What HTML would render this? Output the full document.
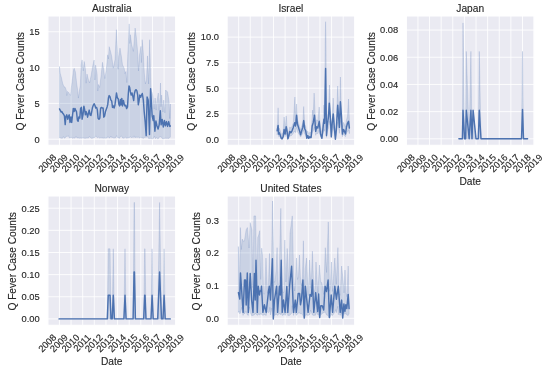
<!DOCTYPE html>
<html><head><meta charset="utf-8"><style>
html,body{margin:0;padding:0;background:#fff;width:550px;height:371px;overflow:hidden}
svg{display:block;}
text{stroke:#262626;stroke-width:0.15px;paint-order:stroke}
</style></head><body>
<svg width="550" height="371" viewBox="0 0 647.058824 436.470588">
 
 <defs>
  <style type="text/css">*{stroke-linejoin: round; stroke-linecap: butt}</style>
 </defs>
 <g id="figure_1">
  <g id="patch_1">
   <path d="M 0 436.470588 
L 647.058824 436.470588 
L 647.058824 0 
L 0 0 
z
" style="fill: #ffffff"/>
  </g>
  <g id="axes_1">
   <g id="patch_2">
    <path d="M 56.235294 170.823529 
L 206.705882 170.823529 
L 206.705882 18.705882 
L 56.235294 18.705882 
z
" style="fill: #eaeaf2"/>
   </g>
   <g id="matplotlib.axis_1">
    <g id="xtick_1">
     <g id="line2d_1">
      <path d="M 56.235294 170.823529 
L 56.235294 18.705882 
" clip-path="url(#pfba14cbc43)" style="fill: none; stroke: #ffffff; stroke-linecap: round"/>
     </g>
     <g id="text_1">
      <text style="font-size: 11px; font-family: 'Liberation Sans', 'DejaVu Sans', sans-serif; fill: #262626" transform="translate(49.595893 203.261852) rotate(-45)">2008</text>
     </g>
    </g>
    <g id="xtick_2">
     <g id="line2d_2">
      <path d="M 69.941674 170.823529 
L 69.941674 18.705882 
" clip-path="url(#pfba14cbc43)" style="fill: none; stroke: #ffffff; stroke-linecap: round"/>
     </g>
     <g id="text_2">
      <text style="font-size: 11px; font-family: 'Liberation Sans', 'DejaVu Sans', sans-serif; fill: #262626" transform="translate(63.302273 203.261852) rotate(-45)">2009</text>
     </g>
    </g>
    <g id="xtick_3">
     <g id="line2d_3">
      <path d="M 83.610605 170.823529 
L 83.610605 18.705882 
" clip-path="url(#pfba14cbc43)" style="fill: none; stroke: #ffffff; stroke-linecap: round"/>
     </g>
     <g id="text_3">
      <text style="font-size: 11px; font-family: 'Liberation Sans', 'DejaVu Sans', sans-serif; fill: #262626" transform="translate(76.971204 203.261852) rotate(-45)">2010</text>
     </g>
    </g>
    <g id="xtick_4">
     <g id="line2d_4">
      <path d="M 97.279536 170.823529 
L 97.279536 18.705882 
" clip-path="url(#pfba14cbc43)" style="fill: none; stroke: #ffffff; stroke-linecap: round"/>
     </g>
     <g id="text_4">
      <text style="font-size: 11px; font-family: 'Liberation Sans', 'DejaVu Sans', sans-serif; fill: #262626" transform="translate(90.926955 202.688212) rotate(-45)">2011</text>
     </g>
    </g>
    <g id="xtick_5">
     <g id="line2d_5">
      <path d="M 110.948467 170.823529 
L 110.948467 18.705882 
" clip-path="url(#pfba14cbc43)" style="fill: none; stroke: #ffffff; stroke-linecap: round"/>
     </g>
     <g id="text_5">
      <text style="font-size: 11px; font-family: 'Liberation Sans', 'DejaVu Sans', sans-serif; fill: #262626" transform="translate(104.309066 203.261852) rotate(-45)">2012</text>
     </g>
    </g>
    <g id="xtick_6">
     <g id="line2d_6">
      <path d="M 124.654847 170.823529 
L 124.654847 18.705882 
" clip-path="url(#pfba14cbc43)" style="fill: none; stroke: #ffffff; stroke-linecap: round"/>
     </g>
     <g id="text_6">
      <text style="font-size: 11px; font-family: 'Liberation Sans', 'DejaVu Sans', sans-serif; fill: #262626" transform="translate(118.015446 203.261852) rotate(-45)">2013</text>
     </g>
    </g>
    <g id="xtick_7">
     <g id="line2d_7">
      <path d="M 138.323778 170.823529 
L 138.323778 18.705882 
" clip-path="url(#pfba14cbc43)" style="fill: none; stroke: #ffffff; stroke-linecap: round"/>
     </g>
     <g id="text_7">
      <text style="font-size: 11px; font-family: 'Liberation Sans', 'DejaVu Sans', sans-serif; fill: #262626" transform="translate(131.684377 203.261852) rotate(-45)">2014</text>
     </g>
    </g>
    <g id="xtick_8">
     <g id="line2d_8">
      <path d="M 151.992709 170.823529 
L 151.992709 18.705882 
" clip-path="url(#pfba14cbc43)" style="fill: none; stroke: #ffffff; stroke-linecap: round"/>
     </g>
     <g id="text_8">
      <text style="font-size: 11px; font-family: 'Liberation Sans', 'DejaVu Sans', sans-serif; fill: #262626" transform="translate(145.353308 203.261852) rotate(-45)">2015</text>
     </g>
    </g>
    <g id="xtick_9">
     <g id="line2d_9">
      <path d="M 165.66164 170.823529 
L 165.66164 18.705882 
" clip-path="url(#pfba14cbc43)" style="fill: none; stroke: #ffffff; stroke-linecap: round"/>
     </g>
     <g id="text_9">
      <text style="font-size: 11px; font-family: 'Liberation Sans', 'DejaVu Sans', sans-serif; fill: #262626" transform="translate(159.022239 203.261852) rotate(-45)">2016</text>
     </g>
    </g>
    <g id="xtick_10">
     <g id="line2d_10">
      <path d="M 179.36802 170.823529 
L 179.36802 18.705882 
" clip-path="url(#pfba14cbc43)" style="fill: none; stroke: #ffffff; stroke-linecap: round"/>
     </g>
     <g id="text_10">
      <text style="font-size: 11px; font-family: 'Liberation Sans', 'DejaVu Sans', sans-serif; fill: #262626" transform="translate(172.728619 203.261852) rotate(-45)">2017</text>
     </g>
    </g>
    <g id="xtick_11">
     <g id="line2d_11">
      <path d="M 193.036951 170.823529 
L 193.036951 18.705882 
" clip-path="url(#pfba14cbc43)" style="fill: none; stroke: #ffffff; stroke-linecap: round"/>
     </g>
     <g id="text_11">
      <text style="font-size: 11px; font-family: 'Liberation Sans', 'DejaVu Sans', sans-serif; fill: #262626" transform="translate(186.39755 203.261852) rotate(-45)">2018</text>
     </g>
    </g>
    <g id="xtick_12">
     <g id="line2d_12">
      <path d="M 206.705882 170.823529 
L 206.705882 18.705882 
" clip-path="url(#pfba14cbc43)" style="fill: none; stroke: #ffffff; stroke-linecap: round"/>
     </g>
     <g id="text_12">
      <text style="font-size: 11px; font-family: 'Liberation Sans', 'DejaVu Sans', sans-serif; fill: #262626" transform="translate(200.066481 203.261852) rotate(-45)">2019</text>
     </g>
    </g>
   </g>
   <g id="matplotlib.axis_2">
    <g id="ytick_1">
     <g id="line2d_13">
      <path d="M 56.235294 163.764706 
L 206.705882 163.764706 
" clip-path="url(#pfba14cbc43)" style="fill: none; stroke: #ffffff; stroke-linecap: round"/>
     </g>
     <g id="text_13">
      <text style="font-size: 11px; font-family: 'Liberation Sans', 'DejaVu Sans', sans-serif; text-anchor: end; fill: #262626" x="46.735294" y="167.750487" transform="rotate(-0 46.735294 167.750487)">0</text>
     </g>
    </g>
    <g id="ytick_2">
     <g id="line2d_14">
      <path d="M 56.235294 121.627451 
L 206.705882 121.627451 
" clip-path="url(#pfba14cbc43)" style="fill: none; stroke: #ffffff; stroke-linecap: round"/>
     </g>
     <g id="text_14">
      <text style="font-size: 11px; font-family: 'Liberation Sans', 'DejaVu Sans', sans-serif; text-anchor: end; fill: #262626" x="46.735294" y="125.613232" transform="rotate(-0 46.735294 125.613232)">5</text>
     </g>
    </g>
    <g id="ytick_3">
     <g id="line2d_15">
      <path d="M 56.235294 79.490196 
L 206.705882 79.490196 
" clip-path="url(#pfba14cbc43)" style="fill: none; stroke: #ffffff; stroke-linecap: round"/>
     </g>
     <g id="text_15">
      <text style="font-size: 11px; font-family: 'Liberation Sans', 'DejaVu Sans', sans-serif; text-anchor: end; fill: #262626" x="46.735294" y="83.475977" transform="rotate(-0 46.735294 83.475977)">10</text>
     </g>
    </g>
    <g id="ytick_4">
     <g id="line2d_16">
      <path d="M 56.235294 37.352941 
L 206.705882 37.352941 
" clip-path="url(#pfba14cbc43)" style="fill: none; stroke: #ffffff; stroke-linecap: round"/>
     </g>
     <g id="text_16">
      <text style="font-size: 11px; font-family: 'Liberation Sans', 'DejaVu Sans', sans-serif; text-anchor: end; fill: #262626" x="46.735294" y="41.338722" transform="rotate(-0 46.735294 41.338722)">15</text>
     </g>
    </g>
    <g id="text_17">
     <text style="font-size: 12px; font-family: 'Liberation Sans', 'DejaVu Sans', sans-serif; text-anchor: middle; fill: #262626" x="28.011" y="95.706" transform="rotate(-90 28.011 95.706)">Q Fever Case Counts</text>
    </g>
   </g>
   <g id="patch_3">
    <path d="M 70 78.235294 
L 70.823529 86.117647 
L 72.352941 91.764706 
L 73.764706 98.235294 
L 75.176471 101.882353 
L 76.588235 102.588235 
L 78 106.117647 
L 78.55 112.525881 
L 79.411765 107.529412 
L 80.823529 108.941176 
L 82.352941 111.764706 
L 83.11 112.144565 
L 83.764706 104.705882 
L 85.176471 93.294118 
L 86.588235 81.882353 
L 87.294118 80.352941 
L 88.705882 84.705882 
L 90.117647 97.529412 
L 91.529412 107.529412 
L 92.23 115.392472 
L 93.058824 108.941176 
L 94.470588 100.352941 
L 95.529412 76.117647 
L 96.588235 70.470588 
L 98 83.294118 
L 99.058824 72.352941 
L 100.588235 82 
L 101.35 97.886545 
L 102.352941 87.176471 
L 104.117647 94.117647 
L 105.411765 97.647059 
L 107.176471 88.941176 
L 108.941176 78.470588 
L 110.705882 70.588235 
L 111.61 94.124484 
L 112.470588 76.705882 
L 114.235294 87.176471 
L 115.03 107.09399 
L 115.882353 99.411765 
L 117.176471 102.941176 
L 118.941176 88.941176 
L 120.588235 73.294118 
L 122 82 
L 123.294118 92.470588 
L 125.058824 82 
L 126.705882 64.470588 
L 127.57 69.262143 
L 128.470588 54.941176 
L 130.235294 61.058824 
L 131.411765 66.470588 
L 133.294118 80.235294 
L 135.294118 70.352941 
L 136.941176 34.941176 
L 138.235294 60.470588 
L 138.97 81.576033 
L 139.647059 66.470588 
L 141.176471 56.588235 
L 142.823529 66.470588 
L 144.117647 76.235294 
L 146.117647 80.235294 
L 146.95 86.680666 
L 148.117647 84.117647 
L 149.23 97.151016 
L 150.117647 70.352941 
L 152 28.117647 
L 152.65 51.153814 
L 153.411765 40.823529 
L 154.941176 52.705882 
L 156.941176 60.470588 
L 158.941176 32.941176 
L 160.470588 44.823529 
L 161.882353 60.470588 
L 162.91 83.50845 
L 163.882353 66.470588 
L 165.764706 54.588235 
L 166.33 73.643245 
L 167.294118 46.705882 
L 168.470588 60.705882 
L 169.764706 86 
L 171.058824 98.705882 
L 172.352941 93.647059 
L 173.529412 65.764706 
L 174.823529 98.705882 
L 176.117647 46.705882 
L 177.411765 98.705882 
L 177.981765 107.668783 
L 178.705882 108.235294 
L 179.882353 112.941176 
L 181.401765 128.332185 
L 182.470588 115.294118 
L 183.681765 129.544932 
L 184.470588 120 
L 186.235294 109.411765 
L 187.101765 129.836619 
L 188.241765 114.771807 
L 188.823529 97.647059 
L 189.381765 125.532024 
L 190.117647 111.764706 
L 191.661765 131.810446 
L 192.588235 117.647059 
L 193.941765 132.806465 
L 194.823529 105.882353 
L 197.176471 108.235294 
L 198.941176 120 
L 199.641765 139.525914 
L 200.470588 122.352941 
L 200.470588 161.188235 
L 198.823529 162.823529 
L 197.682353 162.635294 
L 196.541176 162.776471 
L 195.4 162.752941 
L 194.258824 162.635294 
L 193.117647 162.870588 
L 191.976471 163.258824 
L 190.835294 163.035294 
L 189.705882 161.035294 
L 188.564706 160.929412 
L 187.423529 161.152941 
L 186.282353 163.105882 
L 185.141176 163.058824 
L 184 162.011765 
L 182.858824 163.176471 
L 181.717647 160.235294 
L 180.576471 162.776471 
L 179.435294 163.164706 
L 178.305882 163.058824 
L 177.164706 162.776471 
L 176.023529 162.858824 
L 174.882353 162.976471 
L 173.741176 160.976471 
L 172.6 161.317647 
L 171.458824 161.458824 
L 170.317647 161.411765 
L 169.176471 162.6 
L 168.035294 162.258824 
L 166.905882 162.105882 
L 165.764706 161.341176 
L 164.623529 162.141176 
L 163.482353 162.058824 
L 162.341176 160.847059 
L 161.2 162.117647 
L 160.058824 160.588235 
L 158.917647 162.223529 
L 157.776471 159.776471 
L 156.635294 162.117647 
L 155.505882 161.247059 
L 154.364706 162.011765 
L 153.223529 160.658824 
L 152.082353 162.317647 
L 150.941176 162.047059 
L 149.8 162.152941 
L 148.658824 162.505882 
L 147.517647 161.317647 
L 146.376471 162.188235 
L 145.235294 162.517647 
L 144.105882 162.235294 
L 142.964706 160.141176 
L 141.823529 160.376471 
L 140.682353 162.682353 
L 139.541176 162.011765 
L 138.4 162.164706 
L 137.258824 159.529412 
L 136.117647 162.035294 
L 134.976471 162.141176 
L 133.835294 162.623529 
L 132.705882 161.4 
L 131.564706 162.117647 
L 130.423529 159.976471 
L 129.282353 162.270588 
L 128.141176 162.070588 
L 127 160.658824 
L 125.858824 162.4 
L 124.717647 162.423529 
L 123.576471 162.576471 
L 122.435294 162.094118 
L 121.305882 162.6 
L 120.164706 162.047059 
L 119.023529 162.129412 
L 117.882353 162.105882 
L 116.741176 162.341176 
L 115.6 161.294118 
L 114.458824 162.164706 
L 113.317647 160.223529 
L 112.176471 160.388235 
L 111.035294 162.282353 
L 109.905882 162.070588 
L 108.764706 162.529412 
L 107.623529 162.647059 
L 106.482353 162.094118 
L 105.341176 160.317647 
L 104.2 162.423529 
L 103.058824 162.411765 
L 101.917647 162.4 
L 100.776471 162.576471 
L 99.635294 162.576471 
L 98.505882 162.447059 
L 97.364706 162.270588 
L 96.223529 162.529412 
L 95.082353 162.352941 
L 93.941176 162.576471 
L 92.8 162.270588 
L 91.658824 162.247059 
L 90.517647 162.258824 
L 89.376471 160.376471 
L 88.235294 162.635294 
L 87.105882 162.047059 
L 85.964706 162.411765 
L 84.823529 162.588235 
L 83.682353 161.376471 
L 82.541176 162.094118 
L 81.4 162.035294 
L 80.258824 159.505882 
L 79.117647 160.705882 
L 77.976471 160.258824 
L 76.835294 162.011765 
L 75.694118 162.564706 
L 74.564706 160.611765 
L 73.423529 162.705882 
L 72.282353 162.552941 
L 71.141176 162.2 
L 70 162.317647 
z
" clip-path="url(#pfba14cbc43)" style="fill: #4c72b0; fill-opacity: 0.2; stroke: #4c72b0; stroke-opacity: 0.2; stroke-linejoin: miter"/>
   </g>
   <g id="line2d_17">
    <path d="M 70 128.117647 
L 72 131.882353 
L 72.823529 131.294118 
L 73.764706 133.176471 
L 74.823529 134.470588 
L 75.764706 136.352941 
L 76.705882 146.588235 
L 77.529412 137.058824 
L 78.588235 135.058824 
L 79.647059 140.235294 
L 80.470588 137.058824 
L 81.411765 135.058824 
L 82.352941 144 
L 83.411765 137.647059 
L 84.352941 144 
L 86.235294 127.529412 
L 87.176471 131.294118 
L 88.117647 127.529412 
L 89.176471 130 
L 90 131.294118 
L 91.058824 141.411765 
L 91.882353 142.705882 
L 92.823529 137.647059 
L 93.882353 138.941176 
L 94.823529 127.529412 
L 95.764706 126.235294 
L 96.588235 140.235294 
L 97.647059 135.058824 
L 98.705882 124.941176 
L 99.529412 128.705882 
L 100.470588 135.058824 
L 101.411765 131.294118 
L 102.235294 134 
L 103.058824 137.882353 
L 104 133.411765 
L 104.941176 129.529412 
L 106 135.294118 
L 106.941176 135.882353 
L 107.764706 132.117647 
L 108.823529 126.352941 
L 109.764706 123.882353 
L 110.705882 122 
L 111.647059 123.882353 
L 112.588235 127.058824 
L 113.647059 126.352941 
L 114.470588 128.941176 
L 115.411765 139.058824 
L 116.470588 140.352941 
L 117.411765 139.058824 
L 118.352941 127.647059 
L 119.176471 126.352941 
L 120.235294 127.058824 
L 121.294118 127.058824 
L 122.117647 137.882353 
L 123.058824 136.588235 
L 124 131.529412 
L 126 125.764706 
L 126.823529 122.588235 
L 127.647059 114.941176 
L 128.470588 112.470588 
L 129.411765 113.647059 
L 130.352941 117.529412 
L 131.411765 118.823529 
L 132.352941 126.352941 
L 133.176471 124.470588 
L 134.235294 127.058824 
L 135.176471 123.882353 
L 137.058824 109.294118 
L 138 114.941176 
L 139.058824 116.235294 
L 139.882353 122.705882 
L 140.705882 124.588235 
L 141.647059 116.941176 
L 142.352941 123.294118 
L 143.294118 115.764706 
L 144.117647 124.588235 
L 145.176471 118.235294 
L 146.235294 122.705882 
L 147.058824 124.588235 
L 148 124 
L 148.941176 127.764706 
L 150 125.882353 
L 150.941176 110.588235 
L 151.764706 101.058824 
L 152.588235 103.058824 
L 153.411765 108.117647 
L 154.352941 111.882353 
L 155.294118 109.411765 
L 156.352941 113.764706 
L 157.294118 118.235294 
L 158.117647 110 
L 159.176471 106.235294 
L 160.117647 105.529412 
L 161.058824 106.823529 
L 162 111.882353 
L 162.705882 123.294118 
L 163.647059 118.235294 
L 164.470588 111.882353 
L 165.529412 114.470588 
L 166.470588 111.882353 
L 167.411765 110 
L 168.588235 117.411765 
L 169.647059 131.411765 
L 170.823529 143.647059 
L 172 159.529412 
L 173.058824 114 
L 174.352941 117.647059 
L 175.882353 158.235294 
L 177.176471 104.352941 
L 179.058824 136.705882 
L 180.235294 141.764706 
L 180.941176 136 
L 182.235294 154.470588 
L 183.411765 142.352941 
L 184.705882 148.117647 
L 186 151.882353 
L 187.294118 146.823529 
L 188.588235 130.352941 
L 189.529412 146.823529 
L 190.823529 140.470588 
L 192.117647 149.411765 
L 193.411765 141.764706 
L 194.588235 148.117647 
L 195.882353 143.058824 
L 197.176471 148.705882 
L 198.470588 143.058824 
L 199.764706 148.705882 
L 200.470588 148.117647 
L 200.470588 148.117647 
" clip-path="url(#pfba14cbc43)" style="fill: none; stroke: #4c72b0; stroke-width: 1.7; stroke-linecap: round"/>
   </g>
   <g id="patch_4">
    <path d="M 56.235294 170.823529 
L 56.235294 18.705882 
" style="fill: none; stroke: #ffffff; stroke-width: 1.25; stroke-linejoin: miter; stroke-linecap: square"/>
   </g>
   <g id="patch_5">
    <path d="M 206.705882 170.823529 
L 206.705882 18.705882 
" style="fill: none; stroke: #ffffff; stroke-width: 1.25; stroke-linejoin: miter; stroke-linecap: square"/>
   </g>
   <g id="patch_6">
    <path d="M 56.235294 170.823529 
L 206.705882 170.823529 
" style="fill: none; stroke: #ffffff; stroke-width: 1.25; stroke-linejoin: miter; stroke-linecap: square"/>
   </g>
   <g id="patch_7">
    <path d="M 56.235294 18.705882 
L 206.705882 18.705882 
" style="fill: none; stroke: #ffffff; stroke-width: 1.25; stroke-linejoin: miter; stroke-linecap: square"/>
   </g>
   <g id="text_18">
    <text style="font-size: 12px; font-family: 'Liberation Sans', 'DejaVu Sans', sans-serif; text-anchor: middle; fill: #262626" x="131.470588" y="14.105882" transform="rotate(-0 131.470588 14.105882)">Australia</text>
   </g>
  </g>
  <g id="axes_2">
   <g id="patch_8">
    <path d="M 267.058824 170.823529 
L 417.411765 170.823529 
L 417.411765 18.705882 
L 267.058824 18.705882 
z
" style="fill: #eaeaf2"/>
   </g>
   <g id="matplotlib.axis_3">
    <g id="xtick_13">
     <g id="line2d_18">
      <path d="M 267.058824 170.823529 
L 267.058824 18.705882 
" clip-path="url(#p70b0e5956b)" style="fill: none; stroke: #ffffff; stroke-linecap: round"/>
     </g>
     <g id="text_19">
      <text style="font-size: 11px; font-family: 'Liberation Sans', 'DejaVu Sans', sans-serif; fill: #262626" transform="translate(260.419422 203.261852) rotate(-45)">2008</text>
     </g>
    </g>
    <g id="xtick_14">
     <g id="line2d_19">
      <path d="M 280.754487 170.823529 
L 280.754487 18.705882 
" clip-path="url(#p70b0e5956b)" style="fill: none; stroke: #ffffff; stroke-linecap: round"/>
     </g>
     <g id="text_20">
      <text style="font-size: 11px; font-family: 'Liberation Sans', 'DejaVu Sans', sans-serif; fill: #262626" transform="translate(274.115086 203.261852) rotate(-45)">2009</text>
     </g>
    </g>
    <g id="xtick_15">
     <g id="line2d_20">
      <path d="M 294.412731 170.823529 
L 294.412731 18.705882 
" clip-path="url(#p70b0e5956b)" style="fill: none; stroke: #ffffff; stroke-linecap: round"/>
     </g>
     <g id="text_21">
      <text style="font-size: 11px; font-family: 'Liberation Sans', 'DejaVu Sans', sans-serif; fill: #262626" transform="translate(287.77333 203.261852) rotate(-45)">2010</text>
     </g>
    </g>
    <g id="xtick_16">
     <g id="line2d_21">
      <path d="M 308.070975 170.823529 
L 308.070975 18.705882 
" clip-path="url(#p70b0e5956b)" style="fill: none; stroke: #ffffff; stroke-linecap: round"/>
     </g>
     <g id="text_22">
      <text style="font-size: 11px; font-family: 'Liberation Sans', 'DejaVu Sans', sans-serif; fill: #262626" transform="translate(301.718394 202.688212) rotate(-45)">2011</text>
     </g>
    </g>
    <g id="xtick_17">
     <g id="line2d_22">
      <path d="M 321.729219 170.823529 
L 321.729219 18.705882 
" clip-path="url(#p70b0e5956b)" style="fill: none; stroke: #ffffff; stroke-linecap: round"/>
     </g>
     <g id="text_23">
      <text style="font-size: 11px; font-family: 'Liberation Sans', 'DejaVu Sans', sans-serif; fill: #262626" transform="translate(315.089817 203.261852) rotate(-45)">2012</text>
     </g>
    </g>
    <g id="xtick_18">
     <g id="line2d_23">
      <path d="M 335.424882 170.823529 
L 335.424882 18.705882 
" clip-path="url(#p70b0e5956b)" style="fill: none; stroke: #ffffff; stroke-linecap: round"/>
     </g>
     <g id="text_24">
      <text style="font-size: 11px; font-family: 'Liberation Sans', 'DejaVu Sans', sans-serif; fill: #262626" transform="translate(328.785481 203.261852) rotate(-45)">2013</text>
     </g>
    </g>
    <g id="xtick_19">
     <g id="line2d_24">
      <path d="M 349.083126 170.823529 
L 349.083126 18.705882 
" clip-path="url(#p70b0e5956b)" style="fill: none; stroke: #ffffff; stroke-linecap: round"/>
     </g>
     <g id="text_25">
      <text style="font-size: 11px; font-family: 'Liberation Sans', 'DejaVu Sans', sans-serif; fill: #262626" transform="translate(342.443725 203.261852) rotate(-45)">2014</text>
     </g>
    </g>
    <g id="xtick_20">
     <g id="line2d_25">
      <path d="M 362.74137 170.823529 
L 362.74137 18.705882 
" clip-path="url(#p70b0e5956b)" style="fill: none; stroke: #ffffff; stroke-linecap: round"/>
     </g>
     <g id="text_26">
      <text style="font-size: 11px; font-family: 'Liberation Sans', 'DejaVu Sans', sans-serif; fill: #262626" transform="translate(356.101968 203.261852) rotate(-45)">2015</text>
     </g>
    </g>
    <g id="xtick_21">
     <g id="line2d_26">
      <path d="M 376.399614 170.823529 
L 376.399614 18.705882 
" clip-path="url(#p70b0e5956b)" style="fill: none; stroke: #ffffff; stroke-linecap: round"/>
     </g>
     <g id="text_27">
      <text style="font-size: 11px; font-family: 'Liberation Sans', 'DejaVu Sans', sans-serif; fill: #262626" transform="translate(369.760212 203.261852) rotate(-45)">2016</text>
     </g>
    </g>
    <g id="xtick_22">
     <g id="line2d_27">
      <path d="M 390.095277 170.823529 
L 390.095277 18.705882 
" clip-path="url(#p70b0e5956b)" style="fill: none; stroke: #ffffff; stroke-linecap: round"/>
     </g>
     <g id="text_28">
      <text style="font-size: 11px; font-family: 'Liberation Sans', 'DejaVu Sans', sans-serif; fill: #262626" transform="translate(383.455876 203.261852) rotate(-45)">2017</text>
     </g>
    </g>
    <g id="xtick_23">
     <g id="line2d_28">
      <path d="M 403.753521 170.823529 
L 403.753521 18.705882 
" clip-path="url(#p70b0e5956b)" style="fill: none; stroke: #ffffff; stroke-linecap: round"/>
     </g>
     <g id="text_29">
      <text style="font-size: 11px; font-family: 'Liberation Sans', 'DejaVu Sans', sans-serif; fill: #262626" transform="translate(397.11412 203.261852) rotate(-45)">2018</text>
     </g>
    </g>
    <g id="xtick_24">
     <g id="line2d_29">
      <path d="M 417.411765 170.823529 
L 417.411765 18.705882 
" clip-path="url(#p70b0e5956b)" style="fill: none; stroke: #ffffff; stroke-linecap: round"/>
     </g>
     <g id="text_30">
      <text style="font-size: 11px; font-family: 'Liberation Sans', 'DejaVu Sans', sans-serif; fill: #262626" transform="translate(410.772363 203.261852) rotate(-45)">2019</text>
     </g>
    </g>
   </g>
   <g id="matplotlib.axis_4">
    <g id="ytick_5">
     <g id="line2d_30">
      <path d="M 267.058824 163.882353 
L 417.411765 163.882353 
" clip-path="url(#p70b0e5956b)" style="fill: none; stroke: #ffffff; stroke-linecap: round"/>
     </g>
     <g id="text_31">
      <text style="font-size: 11px; font-family: 'Liberation Sans', 'DejaVu Sans', sans-serif; text-anchor: end; fill: #262626" x="257.558824" y="167.868134" transform="rotate(-0 257.558824 167.868134)">0.0</text>
     </g>
    </g>
    <g id="ytick_6">
     <g id="line2d_31">
      <path d="M 267.058824 133.823529 
L 417.411765 133.823529 
" clip-path="url(#p70b0e5956b)" style="fill: none; stroke: #ffffff; stroke-linecap: round"/>
     </g>
     <g id="text_32">
      <text style="font-size: 11px; font-family: 'Liberation Sans', 'DejaVu Sans', sans-serif; text-anchor: end; fill: #262626" x="257.558824" y="137.809311" transform="rotate(-0 257.558824 137.809311)">2.5</text>
     </g>
    </g>
    <g id="ytick_7">
     <g id="line2d_32">
      <path d="M 267.058824 103.764706 
L 417.411765 103.764706 
" clip-path="url(#p70b0e5956b)" style="fill: none; stroke: #ffffff; stroke-linecap: round"/>
     </g>
     <g id="text_33">
      <text style="font-size: 11px; font-family: 'Liberation Sans', 'DejaVu Sans', sans-serif; text-anchor: end; fill: #262626" x="257.558824" y="107.750487" transform="rotate(-0 257.558824 107.750487)">5.0</text>
     </g>
    </g>
    <g id="ytick_8">
     <g id="line2d_33">
      <path d="M 267.058824 73.705882 
L 417.411765 73.705882 
" clip-path="url(#p70b0e5956b)" style="fill: none; stroke: #ffffff; stroke-linecap: round"/>
     </g>
     <g id="text_34">
      <text style="font-size: 11px; font-family: 'Liberation Sans', 'DejaVu Sans', sans-serif; text-anchor: end; fill: #262626" x="257.558824" y="77.691664" transform="rotate(-0 257.558824 77.691664)">7.5</text>
     </g>
    </g>
    <g id="ytick_9">
     <g id="line2d_34">
      <path d="M 267.058824 43.647059 
L 417.411765 43.647059 
" clip-path="url(#p70b0e5956b)" style="fill: none; stroke: #ffffff; stroke-linecap: round"/>
     </g>
     <g id="text_35">
      <text style="font-size: 11px; font-family: 'Liberation Sans', 'DejaVu Sans', sans-serif; text-anchor: end; fill: #262626" x="257.558824" y="47.63284" transform="rotate(-0 257.558824 47.63284)">10.0</text>
     </g>
    </g>
    <g id="text_36">
     <text style="font-size: 12px; font-family: 'Liberation Sans', 'DejaVu Sans', sans-serif; text-anchor: middle; fill: #262626" x="229.662" y="95.706" transform="rotate(-90 229.662 95.706)">Q Fever Case Counts</text>
    </g>
   </g>
   <g id="patch_9">
    <path d="M 326 148.588235 
L 326.57 144.576513 
L 327.176471 126.823529 
L 327.882353 152.470588 
L 328.705882 150.941176 
L 329.882353 154.117647 
L 330.823529 157.294118 
L 331.882353 158.117647 
L 333.058824 155.647059 
L 334.235294 137.647059 
L 335.411765 152.470588 
L 336.705882 136.352941 
L 337.764706 149.294118 
L 338.705882 158.117647 
L 339.882353 154.117647 
L 340.941176 149.294118 
L 342.235294 150.941176 
L 343.529412 148.588235 
L 345.058824 144.588235 
L 346.941176 114.117647 
L 347.764706 142.941176 
L 348.941176 122.352941 
L 349.882353 140.588235 
L 350.941176 143.764706 
L 352.588235 149.294118 
L 353.647059 153.294118 
L 354.941176 148.588235 
L 356.235294 144.588235 
L 357.294118 125.294118 
L 358.470588 146.117647 
L 359.647059 148.588235 
L 360.941176 157.294118 
L 362.117647 154.117647 
L 363.176471 157.294118 
L 364.470588 155.647059 
L 366 156.470588 
L 367.764706 129.411765 
L 368.470588 136.117647 
L 369.529412 109.411765 
L 371.411765 146.352941 
L 372.588235 140.823529 
L 373.882353 142.470588 
L 375.529412 125.882353 
L 377.058824 149.529412 
L 377.87 154.436328 
L 378.705882 154.352941 
L 380.117647 141.647059 
L 381.058824 123.529412 
L 381.882353 136.823529 
L 382.588235 47.058824 
L 383.058824 25.529412 
L 383.529412 47.058824 
L 384.117647 151.176471 
L 385.294118 136.823529 
L 386.470588 128.941176 
L 387.647059 100 
L 388.470588 127.294118 
L 389.764706 152.705882 
L 390.941176 135.294118 
L 392 115.294118 
L 392.69 132.315775 
L 393.294118 141.647059 
L 393.83 152.087698 
L 394.588235 155.647059 
L 395.647059 144.823529 
L 397.294118 101.176471 
L 398.352941 128.941176 
L 399.294118 141.647059 
L 400.470588 90.588235 
L 401.529412 125.764706 
L 402.823529 149.529412 
L 404.117647 144 
L 405.294118 146.352941 
L 406.470588 149.529412 
L 407.529412 141.647059 
L 408.823529 136.823529 
L 410 116.470588 
L 411.058824 142.470588 
L 411.058824 157.294118 
L 410 153.294118 
L 408.823529 154.470588 
L 407.529412 156.882353 
L 406.470588 160.823529 
L 405.294118 159.235294 
L 404.117647 158.058824 
L 402.823529 160.823529 
L 401.529412 148.941176 
L 400.470588 141.764706 
L 399.294118 156.882353 
L 398.352941 150.529412 
L 397.294118 143.764706 
L 395.647059 158.470588 
L 394.588235 163.882353 
L 393.294118 156.882353 
L 392 148.941176 
L 390.941176 153.705882 
L 389.764706 162.411765 
L 388.470588 149.705882 
L 387.411765 142.588235 
L 386.470588 150.529412 
L 385.294118 154.470588 
L 384.117647 161.647059 
L 383.058824 122.235294 
L 381.882353 154.470588 
L 381.058824 152.117647 
L 380.117647 156.882353 
L 378.705882 163.235294 
L 377.058824 160.823529 
L 375.529412 153.294118 
L 373.882353 157.294118 
L 372.588235 156.470588 
L 371.411765 159.235294 
L 370 149.705882 
L 368.470588 154.117647 
L 367.294118 156.058824 
L 366 162.823529 
L 364.470588 162.411765 
L 363.176471 163.235294 
L 362.117647 161.647059 
L 360.941176 163.235294 
L 359.647059 158.882353 
L 358.470588 157.647059 
L 357.294118 152.882353 
L 356.235294 156.882353 
L 354.941176 158.882353 
L 353.647059 161.235294 
L 352.588235 159.235294 
L 350.941176 156.470588 
L 349.882353 154.882353 
L 348.941176 149.705882 
L 347.764706 156.058824 
L 346.705882 154.117647 
L 345.058824 156.882353 
L 343.529412 158.882353 
L 342.235294 160.058824 
L 340.941176 159.235294 
L 339.882353 161.647059 
L 338.705882 163.647059 
L 337.764706 159.235294 
L 336.705882 156.470588 
L 335.411765 160.823529 
L 334.235294 158.058824 
L 333.058824 162.411765 
L 331.882353 163.647059 
L 330.823529 163.235294 
L 329.882353 161.647059 
L 328.705882 160.058824 
L 327.882353 160.823529 
L 327.176471 155.705882 
L 326 158.882353 
z
" clip-path="url(#p70b0e5956b)" style="fill: #4c72b0; fill-opacity: 0.2; stroke: #4c72b0; stroke-opacity: 0.2; stroke-linejoin: miter"/>
   </g>
   <g id="line2d_35">
    <path d="M 326 153.882353 
L 327.176471 147.529412 
L 327.882353 157.764706 
L 328.705882 156.235294 
L 329.882353 159.411765 
L 330.823529 162.588235 
L 331.882353 163.411765 
L 333.058824 160.941176 
L 334.235294 152.235294 
L 335.411765 157.764706 
L 336.705882 149.058824 
L 337.764706 154.588235 
L 338.705882 163.411765 
L 339.882353 159.411765 
L 340.941176 154.588235 
L 342.235294 156.235294 
L 343.529412 153.882353 
L 345.058824 149.882353 
L 346.705882 144.352941 
L 347.764706 148.235294 
L 348.941176 135.529412 
L 349.882353 145.882353 
L 350.941176 149.058824 
L 352.588235 154.588235 
L 353.647059 158.588235 
L 354.941176 153.882353 
L 356.235294 149.882353 
L 357.294118 141.882353 
L 358.470588 151.411765 
L 359.647059 153.882353 
L 360.941176 162.588235 
L 362.117647 159.411765 
L 363.176471 162.588235 
L 364.470588 160.941176 
L 366 161.764706 
L 367.294118 148.235294 
L 368.470588 144.352941 
L 370 135.529412 
L 371.411765 154.588235 
L 372.588235 149.058824 
L 373.882353 150.705882 
L 375.529412 142.705882 
L 377.058824 157.764706 
L 378.705882 162.588235 
L 380.117647 149.882353 
L 381.058824 140.352941 
L 381.882353 145.058824 
L 383.058824 80.588235 
L 384.117647 159.411765 
L 385.294118 145.058824 
L 386.470588 137.176471 
L 387.411765 121.294118 
L 388.470588 135.529412 
L 389.764706 160.941176 
L 390.941176 143.529412 
L 392 134 
L 393.294118 149.882353 
L 394.588235 163.882353 
L 395.647059 153.058824 
L 397.294118 123.647059 
L 398.352941 137.176471 
L 399.294118 149.882353 
L 400.470588 119.647059 
L 401.529412 134 
L 402.823529 157.764706 
L 404.117647 152.235294 
L 405.294118 154.588235 
L 406.470588 157.764706 
L 407.529412 149.882353 
L 408.823529 145.058824 
L 410 142.705882 
L 411.058824 150.705882 
" clip-path="url(#p70b0e5956b)" style="fill: none; stroke: #4c72b0; stroke-width: 1.7; stroke-linecap: round"/>
   </g>
   <g id="patch_10">
    <path d="M 267.058824 170.823529 
L 267.058824 18.705882 
" style="fill: none; stroke: #ffffff; stroke-width: 1.25; stroke-linejoin: miter; stroke-linecap: square"/>
   </g>
   <g id="patch_11">
    <path d="M 417.411765 170.823529 
L 417.411765 18.705882 
" style="fill: none; stroke: #ffffff; stroke-width: 1.25; stroke-linejoin: miter; stroke-linecap: square"/>
   </g>
   <g id="patch_12">
    <path d="M 267.058824 170.823529 
L 417.411765 170.823529 
" style="fill: none; stroke: #ffffff; stroke-width: 1.25; stroke-linejoin: miter; stroke-linecap: square"/>
   </g>
   <g id="patch_13">
    <path d="M 267.058824 18.705882 
L 417.411765 18.705882 
" style="fill: none; stroke: #ffffff; stroke-width: 1.25; stroke-linejoin: miter; stroke-linecap: square"/>
   </g>
   <g id="text_37">
    <text style="font-size: 12px; font-family: 'Liberation Sans', 'DejaVu Sans', sans-serif; text-anchor: middle; fill: #262626" x="342.235294" y="14.105882" transform="rotate(-0 342.235294 14.105882)">Israel</text>
   </g>
  </g>
  <g id="axes_3">
   <g id="patch_14">
    <path d="M 478 170.823529 
L 628.352941 170.823529 
L 628.352941 18.705882 
L 478 18.705882 
z
" style="fill: #eaeaf2"/>
   </g>
   <g id="matplotlib.axis_5">
    <g id="xtick_25">
     <g id="line2d_36">
      <path d="M 478 170.823529 
L 478 18.705882 
" clip-path="url(#p4101875aa8)" style="fill: none; stroke: #ffffff; stroke-linecap: round"/>
     </g>
     <g id="text_38">
      <text style="font-size: 11px; font-family: 'Liberation Sans', 'DejaVu Sans', sans-serif; fill: #262626" transform="translate(471.360599 203.261852) rotate(-45)">2008</text>
     </g>
    </g>
    <g id="xtick_26">
     <g id="line2d_37">
      <path d="M 491.695664 170.823529 
L 491.695664 18.705882 
" clip-path="url(#p4101875aa8)" style="fill: none; stroke: #ffffff; stroke-linecap: round"/>
     </g>
     <g id="text_39">
      <text style="font-size: 11px; font-family: 'Liberation Sans', 'DejaVu Sans', sans-serif; fill: #262626" transform="translate(485.056262 203.261852) rotate(-45)">2009</text>
     </g>
    </g>
    <g id="xtick_27">
     <g id="line2d_38">
      <path d="M 505.353907 170.823529 
L 505.353907 18.705882 
" clip-path="url(#p4101875aa8)" style="fill: none; stroke: #ffffff; stroke-linecap: round"/>
     </g>
     <g id="text_40">
      <text style="font-size: 11px; font-family: 'Liberation Sans', 'DejaVu Sans', sans-serif; fill: #262626" transform="translate(498.714506 203.261852) rotate(-45)">2010</text>
     </g>
    </g>
    <g id="xtick_28">
     <g id="line2d_39">
      <path d="M 519.012151 170.823529 
L 519.012151 18.705882 
" clip-path="url(#p4101875aa8)" style="fill: none; stroke: #ffffff; stroke-linecap: round"/>
     </g>
     <g id="text_41">
      <text style="font-size: 11px; font-family: 'Liberation Sans', 'DejaVu Sans', sans-serif; fill: #262626" transform="translate(512.65957 202.688212) rotate(-45)">2011</text>
     </g>
    </g>
    <g id="xtick_29">
     <g id="line2d_40">
      <path d="M 532.670395 170.823529 
L 532.670395 18.705882 
" clip-path="url(#p4101875aa8)" style="fill: none; stroke: #ffffff; stroke-linecap: round"/>
     </g>
     <g id="text_42">
      <text style="font-size: 11px; font-family: 'Liberation Sans', 'DejaVu Sans', sans-serif; fill: #262626" transform="translate(526.030994 203.261852) rotate(-45)">2012</text>
     </g>
    </g>
    <g id="xtick_30">
     <g id="line2d_41">
      <path d="M 546.366059 170.823529 
L 546.366059 18.705882 
" clip-path="url(#p4101875aa8)" style="fill: none; stroke: #ffffff; stroke-linecap: round"/>
     </g>
     <g id="text_43">
      <text style="font-size: 11px; font-family: 'Liberation Sans', 'DejaVu Sans', sans-serif; fill: #262626" transform="translate(539.726657 203.261852) rotate(-45)">2013</text>
     </g>
    </g>
    <g id="xtick_31">
     <g id="line2d_42">
      <path d="M 560.024302 170.823529 
L 560.024302 18.705882 
" clip-path="url(#p4101875aa8)" style="fill: none; stroke: #ffffff; stroke-linecap: round"/>
     </g>
     <g id="text_44">
      <text style="font-size: 11px; font-family: 'Liberation Sans', 'DejaVu Sans', sans-serif; fill: #262626" transform="translate(553.384901 203.261852) rotate(-45)">2014</text>
     </g>
    </g>
    <g id="xtick_32">
     <g id="line2d_43">
      <path d="M 573.682546 170.823529 
L 573.682546 18.705882 
" clip-path="url(#p4101875aa8)" style="fill: none; stroke: #ffffff; stroke-linecap: round"/>
     </g>
     <g id="text_45">
      <text style="font-size: 11px; font-family: 'Liberation Sans', 'DejaVu Sans', sans-serif; fill: #262626" transform="translate(567.043145 203.261852) rotate(-45)">2015</text>
     </g>
    </g>
    <g id="xtick_33">
     <g id="line2d_44">
      <path d="M 587.34079 170.823529 
L 587.34079 18.705882 
" clip-path="url(#p4101875aa8)" style="fill: none; stroke: #ffffff; stroke-linecap: round"/>
     </g>
     <g id="text_46">
      <text style="font-size: 11px; font-family: 'Liberation Sans', 'DejaVu Sans', sans-serif; fill: #262626" transform="translate(580.701389 203.261852) rotate(-45)">2016</text>
     </g>
    </g>
    <g id="xtick_34">
     <g id="line2d_45">
      <path d="M 601.036454 170.823529 
L 601.036454 18.705882 
" clip-path="url(#p4101875aa8)" style="fill: none; stroke: #ffffff; stroke-linecap: round"/>
     </g>
     <g id="text_47">
      <text style="font-size: 11px; font-family: 'Liberation Sans', 'DejaVu Sans', sans-serif; fill: #262626" transform="translate(594.397052 203.261852) rotate(-45)">2017</text>
     </g>
    </g>
    <g id="xtick_35">
     <g id="line2d_46">
      <path d="M 614.694697 170.823529 
L 614.694697 18.705882 
" clip-path="url(#p4101875aa8)" style="fill: none; stroke: #ffffff; stroke-linecap: round"/>
     </g>
     <g id="text_48">
      <text style="font-size: 11px; font-family: 'Liberation Sans', 'DejaVu Sans', sans-serif; fill: #262626" transform="translate(608.055296 203.261852) rotate(-45)">2018</text>
     </g>
    </g>
    <g id="xtick_36">
     <g id="line2d_47">
      <path d="M 628.352941 170.823529 
L 628.352941 18.705882 
" clip-path="url(#p4101875aa8)" style="fill: none; stroke: #ffffff; stroke-linecap: round"/>
     </g>
     <g id="text_49">
      <text style="font-size: 11px; font-family: 'Liberation Sans', 'DejaVu Sans', sans-serif; fill: #262626" transform="translate(621.71354 203.261852) rotate(-45)">2019</text>
     </g>
    </g>
    <g id="text_50">
     <text style="font-size: 12px; font-family: 'Liberation Sans', 'DejaVu Sans', sans-serif; text-anchor: middle; fill: #262626" x="553.176471" y="217.572074" transform="rotate(-0 553.176471 217.572074)">Date</text>
    </g>
   </g>
   <g id="matplotlib.axis_6">
    <g id="ytick_10">
     <g id="line2d_48">
      <path d="M 478 163.294118 
L 628.352941 163.294118 
" clip-path="url(#p4101875aa8)" style="fill: none; stroke: #ffffff; stroke-linecap: round"/>
     </g>
     <g id="text_51">
      <text style="font-size: 11px; font-family: 'Liberation Sans', 'DejaVu Sans', sans-serif; text-anchor: end; fill: #262626" x="468.5" y="167.279899" transform="rotate(-0 468.5 167.279899)">0.00</text>
     </g>
    </g>
    <g id="ytick_11">
     <g id="line2d_49">
      <path d="M 478 131.308824 
L 628.352941 131.308824 
" clip-path="url(#p4101875aa8)" style="fill: none; stroke: #ffffff; stroke-linecap: round"/>
     </g>
     <g id="text_52">
      <text style="font-size: 11px; font-family: 'Liberation Sans', 'DejaVu Sans', sans-serif; text-anchor: end; fill: #262626" x="468.5" y="135.294605" transform="rotate(-0 468.5 135.294605)">0.02</text>
     </g>
    </g>
    <g id="ytick_12">
     <g id="line2d_50">
      <path d="M 478 99.323529 
L 628.352941 99.323529 
" clip-path="url(#p4101875aa8)" style="fill: none; stroke: #ffffff; stroke-linecap: round"/>
     </g>
     <g id="text_53">
      <text style="font-size: 11px; font-family: 'Liberation Sans', 'DejaVu Sans', sans-serif; text-anchor: end; fill: #262626" x="468.5" y="103.309311" transform="rotate(-0 468.5 103.309311)">0.04</text>
     </g>
    </g>
    <g id="ytick_13">
     <g id="line2d_51">
      <path d="M 478 67.338235 
L 628.352941 67.338235 
" clip-path="url(#p4101875aa8)" style="fill: none; stroke: #ffffff; stroke-linecap: round"/>
     </g>
     <g id="text_54">
      <text style="font-size: 11px; font-family: 'Liberation Sans', 'DejaVu Sans', sans-serif; text-anchor: end; fill: #262626" x="468.5" y="71.324017" transform="rotate(-0 468.5 71.324017)">0.06</text>
     </g>
    </g>
    <g id="ytick_14">
     <g id="line2d_52">
      <path d="M 478 35.352941 
L 628.352941 35.352941 
" clip-path="url(#p4101875aa8)" style="fill: none; stroke: #ffffff; stroke-linecap: round"/>
     </g>
     <g id="text_55">
      <text style="font-size: 11px; font-family: 'Liberation Sans', 'DejaVu Sans', sans-serif; text-anchor: end; fill: #262626" x="468.5" y="39.338722" transform="rotate(-0 468.5 39.338722)">0.08</text>
     </g>
    </g>
    <g id="text_56">
     <text style="font-size: 12px; font-family: 'Liberation Sans', 'DejaVu Sans', sans-serif; text-anchor: middle; fill: #262626" x="440.603" y="95.706" transform="rotate(-90 440.603 95.706)">Q Fever Case Counts</text>
    </g>
   </g>
   <g id="patch_15">
    <path d="M 539.882353 163.294118 
L 544 163.294118 
L 544.705882 26.941176 
L 546.588235 163.294118 
L 547.764706 163.294118 
L 548.588235 60.470588 
L 552 163.294118 
L 554 60.470588 
L 555.294118 163.294118 
L 556.588235 129.647059 
L 560 163.294118 
L 562.705882 163.294118 
L 563.882353 60.470588 
L 565.882353 163.294118 
L 613.529412 163.294118 
L 614.705882 60.352941 
L 615.882353 163.294118 
L 620.705882 163.294118 
L 620.705882 163.294118 
z
" clip-path="url(#p4101875aa8)" style="fill: #4c72b0; fill-opacity: 0.2; stroke: #4c72b0; stroke-opacity: 0.2; stroke-linejoin: miter"/>
   </g>
   <g id="line2d_53">
    <path d="M 539.882353 163.294118 
L 544 163.294118 
L 544.705882 129.647059 
L 546.588235 163.294118 
L 547.764706 163.294118 
L 548.588235 129.647059 
L 552 163.294118 
L 554 129.647059 
L 555.294118 163.294118 
L 556.588235 129.647059 
L 560 163.294118 
L 562.705882 163.294118 
L 563.882353 129.647059 
L 565.882353 163.294118 
L 613.529412 163.294118 
L 614.705882 128.823529 
L 615.882353 163.294118 
L 620.705882 163.294118 
" clip-path="url(#p4101875aa8)" style="fill: none; stroke: #4c72b0; stroke-width: 1.7; stroke-linecap: round"/>
   </g>
   <g id="patch_16">
    <path d="M 478 170.823529 
L 478 18.705882 
" style="fill: none; stroke: #ffffff; stroke-width: 1.25; stroke-linejoin: miter; stroke-linecap: square"/>
   </g>
   <g id="patch_17">
    <path d="M 628.352941 170.823529 
L 628.352941 18.705882 
" style="fill: none; stroke: #ffffff; stroke-width: 1.25; stroke-linejoin: miter; stroke-linecap: square"/>
   </g>
   <g id="patch_18">
    <path d="M 478 170.823529 
L 628.352941 170.823529 
" style="fill: none; stroke: #ffffff; stroke-width: 1.25; stroke-linejoin: miter; stroke-linecap: square"/>
   </g>
   <g id="patch_19">
    <path d="M 478 18.705882 
L 628.352941 18.705882 
" style="fill: none; stroke: #ffffff; stroke-width: 1.25; stroke-linejoin: miter; stroke-linecap: square"/>
   </g>
   <g id="text_57">
    <text style="font-size: 12px; font-family: 'Liberation Sans', 'DejaVu Sans', sans-serif; text-anchor: middle; fill: #262626" x="553.176471" y="14.105882" transform="rotate(-0 553.176471 14.105882)">Japan</text>
   </g>
  </g>
  <g id="axes_4">
   <g id="patch_20">
    <path d="M 56.235294 382.588235 
L 206.705882 382.588235 
L 206.705882 230.470588 
L 56.235294 230.470588 
z
" style="fill: #eaeaf2"/>
   </g>
   <g id="matplotlib.axis_7">
    <g id="xtick_37">
     <g id="line2d_54">
      <path d="M 56.235294 382.588235 
L 56.235294 230.470588 
" clip-path="url(#p1a7bad42bb)" style="fill: none; stroke: #ffffff; stroke-linecap: round"/>
     </g>
     <g id="text_58">
      <text style="font-size: 11px; font-family: 'Liberation Sans', 'DejaVu Sans', sans-serif; fill: #262626" transform="translate(49.595893 415.026558) rotate(-45)">2008</text>
     </g>
    </g>
    <g id="xtick_38">
     <g id="line2d_55">
      <path d="M 69.941674 382.588235 
L 69.941674 230.470588 
" clip-path="url(#p1a7bad42bb)" style="fill: none; stroke: #ffffff; stroke-linecap: round"/>
     </g>
     <g id="text_59">
      <text style="font-size: 11px; font-family: 'Liberation Sans', 'DejaVu Sans', sans-serif; fill: #262626" transform="translate(63.302273 415.026558) rotate(-45)">2009</text>
     </g>
    </g>
    <g id="xtick_39">
     <g id="line2d_56">
      <path d="M 83.610605 382.588235 
L 83.610605 230.470588 
" clip-path="url(#p1a7bad42bb)" style="fill: none; stroke: #ffffff; stroke-linecap: round"/>
     </g>
     <g id="text_60">
      <text style="font-size: 11px; font-family: 'Liberation Sans', 'DejaVu Sans', sans-serif; fill: #262626" transform="translate(76.971204 415.026558) rotate(-45)">2010</text>
     </g>
    </g>
    <g id="xtick_40">
     <g id="line2d_57">
      <path d="M 97.279536 382.588235 
L 97.279536 230.470588 
" clip-path="url(#p1a7bad42bb)" style="fill: none; stroke: #ffffff; stroke-linecap: round"/>
     </g>
     <g id="text_61">
      <text style="font-size: 11px; font-family: 'Liberation Sans', 'DejaVu Sans', sans-serif; fill: #262626" transform="translate(90.926955 414.452918) rotate(-45)">2011</text>
     </g>
    </g>
    <g id="xtick_41">
     <g id="line2d_58">
      <path d="M 110.948467 382.588235 
L 110.948467 230.470588 
" clip-path="url(#p1a7bad42bb)" style="fill: none; stroke: #ffffff; stroke-linecap: round"/>
     </g>
     <g id="text_62">
      <text style="font-size: 11px; font-family: 'Liberation Sans', 'DejaVu Sans', sans-serif; fill: #262626" transform="translate(104.309066 415.026558) rotate(-45)">2012</text>
     </g>
    </g>
    <g id="xtick_42">
     <g id="line2d_59">
      <path d="M 124.654847 382.588235 
L 124.654847 230.470588 
" clip-path="url(#p1a7bad42bb)" style="fill: none; stroke: #ffffff; stroke-linecap: round"/>
     </g>
     <g id="text_63">
      <text style="font-size: 11px; font-family: 'Liberation Sans', 'DejaVu Sans', sans-serif; fill: #262626" transform="translate(118.015446 415.026558) rotate(-45)">2013</text>
     </g>
    </g>
    <g id="xtick_43">
     <g id="line2d_60">
      <path d="M 138.323778 382.588235 
L 138.323778 230.470588 
" clip-path="url(#p1a7bad42bb)" style="fill: none; stroke: #ffffff; stroke-linecap: round"/>
     </g>
     <g id="text_64">
      <text style="font-size: 11px; font-family: 'Liberation Sans', 'DejaVu Sans', sans-serif; fill: #262626" transform="translate(131.684377 415.026558) rotate(-45)">2014</text>
     </g>
    </g>
    <g id="xtick_44">
     <g id="line2d_61">
      <path d="M 151.992709 382.588235 
L 151.992709 230.470588 
" clip-path="url(#p1a7bad42bb)" style="fill: none; stroke: #ffffff; stroke-linecap: round"/>
     </g>
     <g id="text_65">
      <text style="font-size: 11px; font-family: 'Liberation Sans', 'DejaVu Sans', sans-serif; fill: #262626" transform="translate(145.353308 415.026558) rotate(-45)">2015</text>
     </g>
    </g>
    <g id="xtick_45">
     <g id="line2d_62">
      <path d="M 165.66164 382.588235 
L 165.66164 230.470588 
" clip-path="url(#p1a7bad42bb)" style="fill: none; stroke: #ffffff; stroke-linecap: round"/>
     </g>
     <g id="text_66">
      <text style="font-size: 11px; font-family: 'Liberation Sans', 'DejaVu Sans', sans-serif; fill: #262626" transform="translate(159.022239 415.026558) rotate(-45)">2016</text>
     </g>
    </g>
    <g id="xtick_46">
     <g id="line2d_63">
      <path d="M 179.36802 382.588235 
L 179.36802 230.470588 
" clip-path="url(#p1a7bad42bb)" style="fill: none; stroke: #ffffff; stroke-linecap: round"/>
     </g>
     <g id="text_67">
      <text style="font-size: 11px; font-family: 'Liberation Sans', 'DejaVu Sans', sans-serif; fill: #262626" transform="translate(172.728619 415.026558) rotate(-45)">2017</text>
     </g>
    </g>
    <g id="xtick_47">
     <g id="line2d_64">
      <path d="M 193.036951 382.588235 
L 193.036951 230.470588 
" clip-path="url(#p1a7bad42bb)" style="fill: none; stroke: #ffffff; stroke-linecap: round"/>
     </g>
     <g id="text_68">
      <text style="font-size: 11px; font-family: 'Liberation Sans', 'DejaVu Sans', sans-serif; fill: #262626" transform="translate(186.39755 415.026558) rotate(-45)">2018</text>
     </g>
    </g>
    <g id="xtick_48">
     <g id="line2d_65">
      <path d="M 206.705882 382.588235 
L 206.705882 230.470588 
" clip-path="url(#p1a7bad42bb)" style="fill: none; stroke: #ffffff; stroke-linecap: round"/>
     </g>
     <g id="text_69">
      <text style="font-size: 11px; font-family: 'Liberation Sans', 'DejaVu Sans', sans-serif; fill: #262626" transform="translate(200.066481 415.026558) rotate(-45)">2019</text>
     </g>
    </g>
    <g id="text_70">
     <text style="font-size: 12px; font-family: 'Liberation Sans', 'DejaVu Sans', sans-serif; text-anchor: middle; fill: #262626" x="131.470588" y="429.33678" transform="rotate(-0 131.470588 429.33678)">Date</text>
    </g>
   </g>
   <g id="matplotlib.axis_8">
    <g id="ytick_15">
     <g id="line2d_66">
      <path d="M 56.235294 375.176471 
L 206.705882 375.176471 
" clip-path="url(#p1a7bad42bb)" style="fill: none; stroke: #ffffff; stroke-linecap: round"/>
     </g>
     <g id="text_71">
      <text style="font-size: 11px; font-family: 'Liberation Sans', 'DejaVu Sans', sans-serif; text-anchor: end; fill: #262626" x="46.735294" y="379.162252" transform="rotate(-0 46.735294 379.162252)">0.00</text>
     </g>
    </g>
    <g id="ytick_16">
     <g id="line2d_67">
      <path d="M 56.235294 349.129412 
L 206.705882 349.129412 
" clip-path="url(#p1a7bad42bb)" style="fill: none; stroke: #ffffff; stroke-linecap: round"/>
     </g>
     <g id="text_72">
      <text style="font-size: 11px; font-family: 'Liberation Sans', 'DejaVu Sans', sans-serif; text-anchor: end; fill: #262626" x="46.735294" y="353.115193" transform="rotate(-0 46.735294 353.115193)">0.05</text>
     </g>
    </g>
    <g id="ytick_17">
     <g id="line2d_68">
      <path d="M 56.235294 323.082353 
L 206.705882 323.082353 
" clip-path="url(#p1a7bad42bb)" style="fill: none; stroke: #ffffff; stroke-linecap: round"/>
     </g>
     <g id="text_73">
      <text style="font-size: 11px; font-family: 'Liberation Sans', 'DejaVu Sans', sans-serif; text-anchor: end; fill: #262626" x="46.735294" y="327.068134" transform="rotate(-0 46.735294 327.068134)">0.10</text>
     </g>
    </g>
    <g id="ytick_18">
     <g id="line2d_69">
      <path d="M 56.235294 297.035294 
L 206.705882 297.035294 
" clip-path="url(#p1a7bad42bb)" style="fill: none; stroke: #ffffff; stroke-linecap: round"/>
     </g>
     <g id="text_74">
      <text style="font-size: 11px; font-family: 'Liberation Sans', 'DejaVu Sans', sans-serif; text-anchor: end; fill: #262626" x="46.735294" y="301.021075" transform="rotate(-0 46.735294 301.021075)">0.15</text>
     </g>
    </g>
    <g id="ytick_19">
     <g id="line2d_70">
      <path d="M 56.235294 270.988235 
L 206.705882 270.988235 
" clip-path="url(#p1a7bad42bb)" style="fill: none; stroke: #ffffff; stroke-linecap: round"/>
     </g>
     <g id="text_75">
      <text style="font-size: 11px; font-family: 'Liberation Sans', 'DejaVu Sans', sans-serif; text-anchor: end; fill: #262626" x="46.735294" y="274.974017" transform="rotate(-0 46.735294 274.974017)">0.20</text>
     </g>
    </g>
    <g id="ytick_20">
     <g id="line2d_71">
      <path d="M 56.235294 244.941176 
L 206.705882 244.941176 
" clip-path="url(#p1a7bad42bb)" style="fill: none; stroke: #ffffff; stroke-linecap: round"/>
     </g>
     <g id="text_76">
      <text style="font-size: 11px; font-family: 'Liberation Sans', 'DejaVu Sans', sans-serif; text-anchor: end; fill: #262626" x="46.735294" y="248.926958" transform="rotate(-0 46.735294 248.926958)">0.25</text>
     </g>
    </g>
    <g id="text_77">
     <text style="font-size: 12px; font-family: 'Liberation Sans', 'DejaVu Sans', sans-serif; text-anchor: middle; fill: #262626" x="18.838" y="307.471" transform="rotate(-90 18.838 307.471)">Q Fever Case Counts</text>
    </g>
   </g>
   <g id="patch_21">
    <path d="M 69.411765 375.176471 
L 126.235294 375.176471 
L 127.364706 292.705882 
L 129.458824 292.705882 
L 130.588235 375.176471 
L 132 375.176471 
L 133.294118 292.705882 
L 134.588235 375.176471 
L 145.764706 375.176471 
L 147.058824 292.705882 
L 148.352941 375.176471 
L 156.588235 375.176471 
L 157.717647 238.235294 
L 158.164706 238.235294 
L 159.294118 375.176471 
L 169.058824 375.176471 
L 170.188235 292.705882 
L 170.635294 292.705882 
L 171.764706 375.176471 
L 177.647059 375.176471 
L 178.941176 292.705882 
L 180.235294 375.176471 
L 185.529412 375.176471 
L 187.764706 238.235294 
L 190 375.176471 
L 191.764706 375.176471 
L 193.058824 292.705882 
L 194.352941 375.176471 
L 200.352941 375.176471 
L 200.352941 375.176471 
z
" clip-path="url(#p1a7bad42bb)" style="fill: #4c72b0; fill-opacity: 0.2; stroke: #4c72b0; stroke-opacity: 0.2; stroke-linejoin: miter"/>
   </g>
   <g id="line2d_72">
    <path d="M 69.411765 375.176471 
L 126.235294 375.176471 
L 127.364706 347.294118 
L 129.458824 347.294118 
L 130.588235 375.176471 
L 132 375.176471 
L 133.294118 347.294118 
L 134.588235 375.176471 
L 145.764706 375.176471 
L 147.058824 347.294118 
L 148.352941 375.176471 
L 156.588235 375.176471 
L 157.717647 320 
L 158.164706 320 
L 159.294118 375.176471 
L 169.058824 375.176471 
L 170.188235 347.294118 
L 170.635294 347.294118 
L 171.764706 375.176471 
L 177.647059 375.176471 
L 178.941176 347.294118 
L 180.235294 375.176471 
L 185.529412 375.176471 
L 187.764706 320 
L 190 375.176471 
L 191.764706 375.176471 
L 193.058824 347.294118 
L 194.352941 375.176471 
L 200.352941 375.176471 
" clip-path="url(#p1a7bad42bb)" style="fill: none; stroke: #4c72b0; stroke-width: 1.7; stroke-linecap: round"/>
   </g>
   <g id="patch_22">
    <path d="M 56.235294 382.588235 
L 56.235294 230.470588 
" style="fill: none; stroke: #ffffff; stroke-width: 1.25; stroke-linejoin: miter; stroke-linecap: square"/>
   </g>
   <g id="patch_23">
    <path d="M 206.705882 382.588235 
L 206.705882 230.470588 
" style="fill: none; stroke: #ffffff; stroke-width: 1.25; stroke-linejoin: miter; stroke-linecap: square"/>
   </g>
   <g id="patch_24">
    <path d="M 56.235294 382.588235 
L 206.705882 382.588235 
" style="fill: none; stroke: #ffffff; stroke-width: 1.25; stroke-linejoin: miter; stroke-linecap: square"/>
   </g>
   <g id="patch_25">
    <path d="M 56.235294 230.470588 
L 206.705882 230.470588 
" style="fill: none; stroke: #ffffff; stroke-width: 1.25; stroke-linejoin: miter; stroke-linecap: square"/>
   </g>
   <g id="text_78">
    <text style="font-size: 12px; font-family: 'Liberation Sans', 'DejaVu Sans', sans-serif; text-anchor: middle; fill: #262626" x="131.470588" y="225.870588" transform="rotate(-0 131.470588 225.870588)">Norway</text>
   </g>
  </g>
  <g id="axes_5">
   <g id="patch_26">
    <path d="M 267.058824 382.588235 
L 417.411765 382.588235 
L 417.411765 230.470588 
L 267.058824 230.470588 
z
" style="fill: #eaeaf2"/>
   </g>
   <g id="matplotlib.axis_9">
    <g id="xtick_49">
     <g id="line2d_73">
      <path d="M 267.058824 382.588235 
L 267.058824 230.470588 
" clip-path="url(#pdc96f18a50)" style="fill: none; stroke: #ffffff; stroke-linecap: round"/>
     </g>
     <g id="text_79">
      <text style="font-size: 11px; font-family: 'Liberation Sans', 'DejaVu Sans', sans-serif; fill: #262626" transform="translate(260.419422 415.026558) rotate(-45)">2008</text>
     </g>
    </g>
    <g id="xtick_50">
     <g id="line2d_74">
      <path d="M 280.754487 382.588235 
L 280.754487 230.470588 
" clip-path="url(#pdc96f18a50)" style="fill: none; stroke: #ffffff; stroke-linecap: round"/>
     </g>
     <g id="text_80">
      <text style="font-size: 11px; font-family: 'Liberation Sans', 'DejaVu Sans', sans-serif; fill: #262626" transform="translate(274.115086 415.026558) rotate(-45)">2009</text>
     </g>
    </g>
    <g id="xtick_51">
     <g id="line2d_75">
      <path d="M 294.412731 382.588235 
L 294.412731 230.470588 
" clip-path="url(#pdc96f18a50)" style="fill: none; stroke: #ffffff; stroke-linecap: round"/>
     </g>
     <g id="text_81">
      <text style="font-size: 11px; font-family: 'Liberation Sans', 'DejaVu Sans', sans-serif; fill: #262626" transform="translate(287.77333 415.026558) rotate(-45)">2010</text>
     </g>
    </g>
    <g id="xtick_52">
     <g id="line2d_76">
      <path d="M 308.070975 382.588235 
L 308.070975 230.470588 
" clip-path="url(#pdc96f18a50)" style="fill: none; stroke: #ffffff; stroke-linecap: round"/>
     </g>
     <g id="text_82">
      <text style="font-size: 11px; font-family: 'Liberation Sans', 'DejaVu Sans', sans-serif; fill: #262626" transform="translate(301.718394 414.452918) rotate(-45)">2011</text>
     </g>
    </g>
    <g id="xtick_53">
     <g id="line2d_77">
      <path d="M 321.729219 382.588235 
L 321.729219 230.470588 
" clip-path="url(#pdc96f18a50)" style="fill: none; stroke: #ffffff; stroke-linecap: round"/>
     </g>
     <g id="text_83">
      <text style="font-size: 11px; font-family: 'Liberation Sans', 'DejaVu Sans', sans-serif; fill: #262626" transform="translate(315.089817 415.026558) rotate(-45)">2012</text>
     </g>
    </g>
    <g id="xtick_54">
     <g id="line2d_78">
      <path d="M 335.424882 382.588235 
L 335.424882 230.470588 
" clip-path="url(#pdc96f18a50)" style="fill: none; stroke: #ffffff; stroke-linecap: round"/>
     </g>
     <g id="text_84">
      <text style="font-size: 11px; font-family: 'Liberation Sans', 'DejaVu Sans', sans-serif; fill: #262626" transform="translate(328.785481 415.026558) rotate(-45)">2013</text>
     </g>
    </g>
    <g id="xtick_55">
     <g id="line2d_79">
      <path d="M 349.083126 382.588235 
L 349.083126 230.470588 
" clip-path="url(#pdc96f18a50)" style="fill: none; stroke: #ffffff; stroke-linecap: round"/>
     </g>
     <g id="text_85">
      <text style="font-size: 11px; font-family: 'Liberation Sans', 'DejaVu Sans', sans-serif; fill: #262626" transform="translate(342.443725 415.026558) rotate(-45)">2014</text>
     </g>
    </g>
    <g id="xtick_56">
     <g id="line2d_80">
      <path d="M 362.74137 382.588235 
L 362.74137 230.470588 
" clip-path="url(#pdc96f18a50)" style="fill: none; stroke: #ffffff; stroke-linecap: round"/>
     </g>
     <g id="text_86">
      <text style="font-size: 11px; font-family: 'Liberation Sans', 'DejaVu Sans', sans-serif; fill: #262626" transform="translate(356.101968 415.026558) rotate(-45)">2015</text>
     </g>
    </g>
    <g id="xtick_57">
     <g id="line2d_81">
      <path d="M 376.399614 382.588235 
L 376.399614 230.470588 
" clip-path="url(#pdc96f18a50)" style="fill: none; stroke: #ffffff; stroke-linecap: round"/>
     </g>
     <g id="text_87">
      <text style="font-size: 11px; font-family: 'Liberation Sans', 'DejaVu Sans', sans-serif; fill: #262626" transform="translate(369.760212 415.026558) rotate(-45)">2016</text>
     </g>
    </g>
    <g id="xtick_58">
     <g id="line2d_82">
      <path d="M 390.095277 382.588235 
L 390.095277 230.470588 
" clip-path="url(#pdc96f18a50)" style="fill: none; stroke: #ffffff; stroke-linecap: round"/>
     </g>
     <g id="text_88">
      <text style="font-size: 11px; font-family: 'Liberation Sans', 'DejaVu Sans', sans-serif; fill: #262626" transform="translate(383.455876 415.026558) rotate(-45)">2017</text>
     </g>
    </g>
    <g id="xtick_59">
     <g id="line2d_83">
      <path d="M 403.753521 382.588235 
L 403.753521 230.470588 
" clip-path="url(#pdc96f18a50)" style="fill: none; stroke: #ffffff; stroke-linecap: round"/>
     </g>
     <g id="text_89">
      <text style="font-size: 11px; font-family: 'Liberation Sans', 'DejaVu Sans', sans-serif; fill: #262626" transform="translate(397.11412 415.026558) rotate(-45)">2018</text>
     </g>
    </g>
    <g id="xtick_60">
     <g id="line2d_84">
      <path d="M 417.411765 382.588235 
L 417.411765 230.470588 
" clip-path="url(#pdc96f18a50)" style="fill: none; stroke: #ffffff; stroke-linecap: round"/>
     </g>
     <g id="text_90">
      <text style="font-size: 11px; font-family: 'Liberation Sans', 'DejaVu Sans', sans-serif; fill: #262626" transform="translate(410.772363 415.026558) rotate(-45)">2019</text>
     </g>
    </g>
    <g id="text_91">
     <text style="font-size: 12px; font-family: 'Liberation Sans', 'DejaVu Sans', sans-serif; text-anchor: middle; fill: #262626" x="342.235294" y="429.33678" transform="rotate(-0 342.235294 429.33678)">Date</text>
    </g>
   </g>
   <g id="matplotlib.axis_10">
    <g id="ytick_21">
     <g id="line2d_85">
      <path d="M 267.058824 374.470588 
L 417.411765 374.470588 
" clip-path="url(#pdc96f18a50)" style="fill: none; stroke: #ffffff; stroke-linecap: round"/>
     </g>
     <g id="text_92">
      <text style="font-size: 11px; font-family: 'Liberation Sans', 'DejaVu Sans', sans-serif; text-anchor: end; fill: #262626" x="257.558824" y="378.456369" transform="rotate(-0 257.558824 378.456369)">0.0</text>
     </g>
    </g>
    <g id="ytick_22">
     <g id="line2d_86">
      <path d="M 267.058824 336 
L 417.411765 336 
" clip-path="url(#pdc96f18a50)" style="fill: none; stroke: #ffffff; stroke-linecap: round"/>
     </g>
     <g id="text_93">
      <text style="font-size: 11px; font-family: 'Liberation Sans', 'DejaVu Sans', sans-serif; text-anchor: end; fill: #262626" x="257.558824" y="339.985781" transform="rotate(-0 257.558824 339.985781)">0.1</text>
     </g>
    </g>
    <g id="ytick_23">
     <g id="line2d_87">
      <path d="M 267.058824 297.529412 
L 417.411765 297.529412 
" clip-path="url(#pdc96f18a50)" style="fill: none; stroke: #ffffff; stroke-linecap: round"/>
     </g>
     <g id="text_94">
      <text style="font-size: 11px; font-family: 'Liberation Sans', 'DejaVu Sans', sans-serif; text-anchor: end; fill: #262626" x="257.558824" y="301.515193" transform="rotate(-0 257.558824 301.515193)">0.2</text>
     </g>
    </g>
    <g id="ytick_24">
     <g id="line2d_88">
      <path d="M 267.058824 259.058824 
L 417.411765 259.058824 
" clip-path="url(#pdc96f18a50)" style="fill: none; stroke: #ffffff; stroke-linecap: round"/>
     </g>
     <g id="text_95">
      <text style="font-size: 11px; font-family: 'Liberation Sans', 'DejaVu Sans', sans-serif; text-anchor: end; fill: #262626" x="257.558824" y="263.044605" transform="rotate(-0 257.558824 263.044605)">0.3</text>
     </g>
    </g>
    <g id="text_96">
     <text style="font-size: 12px; font-family: 'Liberation Sans', 'DejaVu Sans', sans-serif; text-anchor: middle; fill: #262626" x="235.779" y="307.471" transform="rotate(-90 235.779 307.471)">Q Fever Case Counts</text>
    </g>
   </g>
   <g id="patch_27">
    <path d="M 280.470588 290.103093 
L 281.610588 345.763052 
L 282.823529 267.764706 
L 283.890588 293.504617 
L 285.030588 281.28968 
L 286.170588 283.81073 
L 287.529412 283.529412 
L 289.590588 270.347623 
L 291.058824 267.764706 
L 293.010588 291.809805 
L 294.352941 261.882353 
L 296.430588 270.671831 
L 297.570588 338.455436 
L 298.705882 254 
L 300.705882 254 
L 302.130588 337.476804 
L 303.270588 279.417298 
L 304.352941 276.470588 
L 305.550588 271.472312 
L 306.690588 328.727494 
L 307.830588 291.956171 
L 308.823529 300 
L 310.110588 345.654968 
L 311.250588 345.875341 
L 312.941176 303.529412 
L 314.670588 345.215373 
L 315.810588 333.65611 
L 317.058824 298.235294 
L 318.090588 339.424547 
L 319.230588 325.234054 
L 320.588235 236.470588 
L 322.650588 332.377626 
L 323.790588 330.095616 
L 324.930588 316.301143 
L 326 291.411765 
L 327.210588 346.115417 
L 328.350588 329.596303 
L 330.352941 245.176471 
L 331.770588 338.212294 
L 332.910588 344.233155 
L 334.050588 343.818707 
L 335.058824 282.352941 
L 336.330588 331.818768 
L 337.882353 292.352941 
L 339.750588 337.525966 
L 341.176471 274.588235 
L 343.882353 254 
L 345.450588 325.205738 
L 346.590588 342.281565 
L 347.730588 330.754107 
L 348.823529 303.529412 
L 350.010588 328.677757 
L 351.150588 325.318308 
L 352.352941 300 
L 353.430588 326.263927 
L 354.570588 336.520419 
L 355.710588 328.276867 
L 356.941176 283.294118 
L 357.990588 345.545353 
L 359.130588 316.478462 
L 360.588235 303.529412 
L 362.550588 347.818944 
L 364.117647 305.882353 
L 365.970588 339.135581 
L 367.529412 295.529412 
L 369.390588 346.627689 
L 370.530588 339.959486 
L 371.764706 308.235294 
L 372.810588 326.393884 
L 373.950588 345.207044 
L 375.882353 311.764706 
L 377.370588 332.123761 
L 378.510588 332.504656 
L 379.650588 337.810262 
L 380.790588 346.448512 
L 382.705882 291.411765 
L 384.210588 320.624861 
L 386.235294 261.058824 
L 387.630588 342.737339 
L 388.770588 335.184866 
L 390 308.235294 
L 391.050588 342.874757 
L 392.190588 328.280494 
L 393.882353 303.529412 
L 395.610588 334.393771 
L 397.529412 291.411765 
L 399.030588 345.440639 
L 400.170588 347.320245 
L 401.882353 312.941176 
L 403.590588 329.331314 
L 404.730588 344.601455 
L 405.882353 317.647059 
L 407.010588 344.332516 
L 408.150588 348.966206 
L 409.647059 312.941176 
L 410.705882 368.849037 
L 409.647059 371.085345 
L 408 370.616025 
L 406.823529 368.02802 
L 405.764706 369.882353 
L 404.588235 366.682072 
L 403.176471 374.470588 
L 401.882353 366.678541 
L 400.235294 371.058824 
L 399.600588 369.507993 
L 398 370.088432 
L 397.320588 360.435943 
L 395.764706 367.853606 
L 395.040588 364.358954 
L 393.882353 367.180072 
L 391.294118 371.058824 
L 389.647059 370.238096 
L 387.529412 374.470588 
L 386 371.128499 
L 384.117647 370.489141 
L 382.470588 366.769226 
L 380.823529 368.235294 
L 380.220588 367.518673 
L 379.058824 369.169564 
L 377.411765 370.384037 
L 376.800588 371.129625 
L 376.117647 374.470588 
L 374.823529 369.829727 
L 373.647059 370 
L 372.240588 366.693705 
L 371.411765 370.727981 
L 369.176471 371.058824 
L 367.529412 370.520647 
L 366.352941 367.238116 
L 365.400588 364.965443 
L 364.705882 369.629523 
L 362.470588 371.134069 
L 360.823529 370.500709 
L 359.176471 370.842097 
L 358 374.470588 
L 356.352941 370.725655 
L 354.705882 369.220008 
L 353.529412 369.223878 
L 352.470588 368.121932 
L 350.823529 368.286429 
L 348.588235 371.058824 
L 347.411765 367.887182 
L 346.020588 367.346284 
L 345.294118 371.058824 
L 343.740588 359.670514 
L 343.058824 368.523115 
L 340.823529 371.014024 
L 338.588235 371.058824 
L 338.040588 367.233462 
L 337.411765 367.110442 
L 335.411765 371.058824 
L 334.620588 369.015797 
L 333.529412 370.606431 
L 332 371.058824 
L 330.823529 368.562923 
L 329.764706 370.239571 
L 328.823529 368.32924 
L 326.588235 371.058824 
L 325.411765 369.831198 
L 322.941176 370.606178 
L 322.080588 372.019447 
L 321.529412 374.470588 
L 320.470588 368.69529 
L 319.800588 362.464458 
L 318.235294 370.543658 
L 317.520588 361.650981 
L 316.823529 366.616526 
L 316 367.888318 
L 314.100588 366.027481 
L 313.176471 371.058824 
L 311.058824 370.038731 
L 309.294118 371.058824 
L 307.647059 369.630172 
L 307.058824 369.958832 
L 306 368.932617 
L 305.294118 370.555507 
L 303.764706 369.458168 
L 302.705882 371.058824 
L 301.176471 369.477968 
L 300.235294 368.71225 
L 299.294118 370.406877 
L 297.647059 371.058824 
L 296 371.155976 
L 294.352941 367.573322 
L 293.580588 361.076889 
L 292.117647 371.058824 
L 290.941176 370.411619 
L 289.647059 366.532555 
L 288.823529 366.778959 
L 287.647059 369.415154 
L 286.740588 365.424471 
L 286 371.058824 
L 284.460588 361.554113 
L 282.941176 368.211554 
L 282.117647 369.031667 
L 281.040588 365.840233 
L 280.470588 367.590422 
z
" clip-path="url(#pdc96f18a50)" style="fill: #4c72b0; fill-opacity: 0.2; stroke: #4c72b0; stroke-opacity: 0.2; stroke-linejoin: miter"/>
   </g>
   <g id="line2d_89">
    <path d="M 280.470588 344.235294 
L 282.117647 351.764706 
L 282.941176 321.176471 
L 286 367.529412 
L 287.647059 329.411765 
L 288.823529 329.411765 
L 289.647059 358.823529 
L 290.941176 321.176471 
L 292.117647 367.529412 
L 294.352941 321.647059 
L 296 352.941176 
L 297.647059 367.529412 
L 299.294118 321.647059 
L 300.235294 352.941176 
L 301.176471 306.117647 
L 302.705882 367.529412 
L 303.764706 336.705882 
L 305.294118 347.058824 
L 306 342.352941 
L 307.058824 342.352941 
L 307.647059 336.705882 
L 309.294118 367.529412 
L 311.058824 358.588235 
L 313.176471 367.529412 
L 316 342 
L 316.823529 336.705882 
L 318.235294 352.941176 
L 320.470588 304.470588 
L 321.529412 375.294118 
L 322.941176 352.941176 
L 325.411765 336.705882 
L 326.588235 367.529412 
L 328.823529 336.705882 
L 329.764706 347.058824 
L 330.823529 306.117647 
L 332 367.529412 
L 333.529412 352.941176 
L 335.411765 367.529412 
L 337.411765 337.058824 
L 338.588235 367.529412 
L 340.823529 335.294118 
L 343.058824 313.294118 
L 345.294118 367.529412 
L 347.411765 353.058824 
L 348.588235 367.529412 
L 350.823529 345.294118 
L 352.470588 345.294118 
L 353.529412 358.588235 
L 354.705882 352 
L 356.352941 329.411765 
L 358 374.235294 
L 359.176471 336.705882 
L 360.823529 352 
L 362.470588 367.529412 
L 364.705882 346.470588 
L 366.352941 348.588235 
L 367.529412 329.411765 
L 369.176471 367.529412 
L 371.411765 344.235294 
L 373.647059 366.470588 
L 374.823529 345.882353 
L 376.117647 373.529412 
L 377.411765 359.764706 
L 379.058824 359.764706 
L 380.823529 364.705882 
L 382.470588 336.705882 
L 384.117647 342.941176 
L 386 329.411765 
L 387.529412 373.529412 
L 389.647059 347.058824 
L 391.294118 367.529412 
L 393.882353 336.705882 
L 395.764706 352 
L 398 336.705882 
L 400.235294 367.529412 
L 401.882353 353.058824 
L 403.176471 374.117647 
L 404.588235 357.529412 
L 405.764706 366.352941 
L 406.823529 358.588235 
L 408 363.058824 
L 409.647059 346.352941 
L 410.705882 363.058824 
" clip-path="url(#pdc96f18a50)" style="fill: none; stroke: #4c72b0; stroke-width: 1.7; stroke-linecap: round"/>
   </g>
   <g id="patch_28">
    <path d="M 267.058824 382.588235 
L 267.058824 230.470588 
" style="fill: none; stroke: #ffffff; stroke-width: 1.25; stroke-linejoin: miter; stroke-linecap: square"/>
   </g>
   <g id="patch_29">
    <path d="M 417.411765 382.588235 
L 417.411765 230.470588 
" style="fill: none; stroke: #ffffff; stroke-width: 1.25; stroke-linejoin: miter; stroke-linecap: square"/>
   </g>
   <g id="patch_30">
    <path d="M 267.058824 382.588235 
L 417.411765 382.588235 
" style="fill: none; stroke: #ffffff; stroke-width: 1.25; stroke-linejoin: miter; stroke-linecap: square"/>
   </g>
   <g id="patch_31">
    <path d="M 267.058824 230.470588 
L 417.411765 230.470588 
" style="fill: none; stroke: #ffffff; stroke-width: 1.25; stroke-linejoin: miter; stroke-linecap: square"/>
   </g>
   <g id="text_97">
    <text style="font-size: 12px; font-family: 'Liberation Sans', 'DejaVu Sans', sans-serif; text-anchor: middle; fill: #262626" x="342.235294" y="225.870588" transform="rotate(-0 342.235294 225.870588)">United States</text>
   </g>
  </g>
 </g>
 <defs>
  <clipPath id="pfba14cbc43">
   <rect x="56.235294" y="18.705882" width="150.470588" height="152.117647"/>
  </clipPath>
  <clipPath id="p70b0e5956b">
   <rect x="267.058824" y="18.705882" width="150.352941" height="152.117647"/>
  </clipPath>
  <clipPath id="p4101875aa8">
   <rect x="478" y="18.705882" width="150.352941" height="152.117647"/>
  </clipPath>
  <clipPath id="p1a7bad42bb">
   <rect x="56.235294" y="230.470588" width="150.470588" height="152.117647"/>
  </clipPath>
  <clipPath id="pdc96f18a50">
   <rect x="267.058824" y="230.470588" width="150.352941" height="152.117647"/>
  </clipPath>
 </defs>
</svg>

</body></html>
